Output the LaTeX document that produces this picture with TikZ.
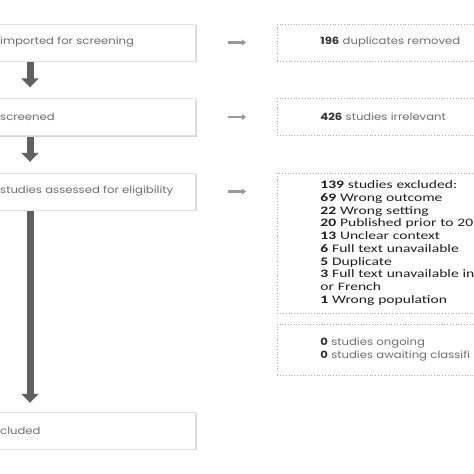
\documentclass[tikz,border=0pt]{standalone}
\usepackage{fontspec}
\newfontfamily\geo[FakeStretch=1.17]{Poppins}
\newfontfamily\hum[FakeStretch=1.36]{Carlito}
\usetikzlibrary{arrows.meta,shadows}
\definecolor{boxtext}{HTML}{6E6E6E}
\definecolor{numcol}{HTML}{333333}
\definecolor{arrowgray}{HTML}{606060}
\definecolor{smallgray}{HTML}{9A9A9A}
\definecolor{boxline}{HTML}{E2E2E2}
\definecolor{dotline}{HTML}{B0B0B0}
\definecolor{darktext}{HTML}{1E1E1E}
\newcommand{\nb}[1]{{\bfseries\color{numcol}#1}}
\begin{document}
\begin{tikzpicture}[x=1bp,y=-1bp,
  leftbox/.style={draw=boxline, fill=white,
    drop shadow={shadow xshift=1.4bp,shadow yshift=-1.4bp,fill=black!16,opacity=1},
    anchor=west, minimum height=37bp, text width=185bp, inner xsep=10bp, align=left,
    font=\geo\fontsize{10}{11}\selectfont, text=boxtext},
  rightbox/.style={draw=dotline, dotted, line width=0.8bp, fill=white,
    anchor=west, minimum height=37bp, text width=200bp, inner xsep=43bp, align=left,
    font=\geo\fontsize{10}{11}\selectfont, text=boxtext},
  listbox/.style={rightbox, font=\hum\fontsize{11.5}{12.8}\selectfont, text=darktext},
  bigarrow/.style={draw=arrowgray, line width=7bp, -{Triangle[width=17bp,length=9bp]}},
  smallarrow/.style={draw=smallgray, line width=2.5bp, -{Triangle[width=6bp,length=4bp]}}]
\useasboundingbox (0,0) rectangle (474,474);
\clip (0,0) rectangle (474,474);
\fill[white] (0,0) rectangle (474,474);

\node[leftbox] (l1) at (-10,42.5) {imported for screening};
\node[leftbox] (l2) at (-10,117) {screened};
\node[leftbox] (l3) at (-10,191.5) {studies assessed for eligibility};
\node[leftbox] (l4) at (-10,430.5) {cluded};

\node[rightbox] (r1) at (277,42.5) {\nb{196} duplicates removed};
\node[rightbox] (r2) at (277,117) {\nb{426} studies irrelevant};
\node[listbox, minimum height=140bp] (r3) at (277,243) {\textbf{139} studies excluded:\\
\textbf{69} Wrong outcome\\
\textbf{22} Wrong setting\\
\textbf{20} Published prior to 20\\
\textbf{13} Unclear context\\
\textbf{6} Full text unavailable\\
\textbf{5} Duplicate\\
\textbf{3} Full text unavailable in\\
or French\\
\textbf{1} Wrong population};
\node[rightbox, minimum height=51bp, font=\geo\fontsize{10}{13}\selectfont] (r4) at (277,349.5) {\nb{0} studies ongoing\\
\nb{0} studies awaiting classifi};

\draw[bigarrow, shorten <=1bp, shorten >=11bp] ([xshift=40bp]l1.south west) -- ([xshift=40bp]l2.north west);
\draw[bigarrow, shorten <=1bp, shorten >=11bp] ([xshift=40bp]l2.south west) -- ([xshift=40bp]l3.north west);
\draw[bigarrow, shorten <=1bp, shorten >=9bp] ([xshift=40bp]l3.south west) -- ([xshift=40bp]l4.north west);

\draw[smallarrow] ([xshift=33bp]l1.east) -- ([xshift=-31bp]r1.west);
\draw[smallarrow] ([xshift=33bp]l2.east) -- ([xshift=-31bp]r2.west);
\draw[smallarrow] ([xshift=33bp]l3.east) -- ([xshift=-31bp]l3.east -| r3.west);
\end{tikzpicture}
\end{document}
